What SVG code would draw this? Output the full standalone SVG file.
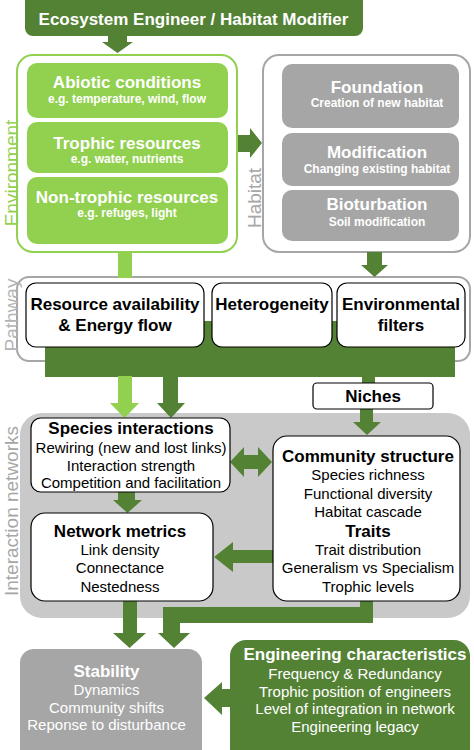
<svg xmlns="http://www.w3.org/2000/svg" width="474" height="750" viewBox="0 0 474 750">
<style>
text{font-family:"Liberation Sans",Arial,sans-serif;text-anchor:middle}
.h{font-weight:bold;font-size:17px}
.hw{font-weight:bold;font-size:17px;fill:#fff}
.sw{font-weight:bold;font-size:12px;fill:#fff}
.l{font-size:15px;fill:#000}
.lw{font-size:15px;fill:#fff}
.v{font-size:19px}
.dg{fill:#548235}
.lg{fill:#92d050}
.wb{fill:#fff;stroke:#000;stroke-width:1.2}
</style>
<rect width="474" height="750" fill="#fff"/>

<!-- background panels -->
<g id="environment">
<rect x="17" y="55" width="220" height="197" rx="16" fill="#fff" stroke="#92d050" stroke-width="2"/>
<text class="v" fill="#92d050" transform="translate(17.5,173) rotate(-90)">Environment</text>
</g>
<g id="habitat">
<rect x="263" y="55" width="207" height="197" rx="16" fill="#fff" stroke="#a6a6a6" stroke-width="2"/>
<text class="v" fill="#a6a6a6" transform="translate(261,198) rotate(-90)">Habitat</text>
</g>
<g id="pathway">
<rect x="17" y="277" width="453" height="84" rx="12" fill="#fff" stroke="#a6a6a6" stroke-width="2"/>
<text class="v" fill="#b4b4b4" transform="translate(17.5,315) rotate(-90)">Pathway</text>
</g>
<g id="interaction-networks">
<rect x="20" y="413" width="450" height="205" rx="22" fill="#c9c9c9"/>
<text class="v" fill="#a6a6a6" transform="translate(17.5,511) rotate(-90)">Interaction networks</text>
</g>

<!-- connectors -->
<g id="connectors">
<polygon class="dg" points="108,34 127,34 127,42 133,42 117.5,53 102,42 108,42"/>
<polygon class="dg" points="238,135 250,135 250,128 262,143 250,158 250,152 238,152"/>
<rect class="lg" x="118" y="251" width="14" height="27"/>
<polygon class="dg" points="367,252 382,252 382,265 388,265 374.5,277 361,265 367,265"/>
<rect class="dg" x="45" y="321" width="410" height="56"/>
<polygon class="lg" points="118,376 132,376 132,403 139,403 124.5,418 110,403 118,403"/>
<polygon class="dg" points="163,376 178,376 178,403 185,403 171,418 157,403 163,403"/>
<rect class="dg" x="362" y="376" width="13" height="8"/>
<polygon class="dg" points="360,409 373,409 373,422 381,422 367,435 353,422 360,422"/>
<polygon class="dg" points="230,462 244,447 244,455 258,455 258,447 272,462 258,477 258,469 244,469 244,477"/>
<polygon class="dg" points="118,492 135,492 135,500 142,500 127.5,513 113,500 118,500"/>
<polygon class="dg" points="273,550 273,563 233,563 233,572 214,557 233,542 233,550"/>
<polygon class="dg" points="123,601 137,601 137,633 146,633 129.5,648 113,633 123,633"/>
<polygon class="dg" points="360,601 373,601 373,623 180,623 180,633 190,633 174,648 158,633 163,633 163,607 360,607"/>
<polygon class="dg" points="232,689 232,707 222,707 222,715 204,698 222,682 222,689"/>
</g>

<!-- nodes -->
<g id="engineer">
<rect class="dg" x="25" y="-10" width="338" height="46" rx="8"/>
<text class="hw" x="193.5" y="25">Ecosystem Engineer / Habitat Modifier</text>
</g>
<g id="abiotic">
<rect class="lg" x="27" y="63" width="201" height="55" rx="10"/>
<text class="hw" x="127" y="88">Abiotic conditions</text>
<text class="sw" x="127" y="103">e.g. temperature, wind, flow</text>
</g>
<g id="trophic">
<rect class="lg" x="27" y="122" width="201" height="51" rx="10"/>
<text class="hw" x="127" y="149">Trophic resources</text>
<text class="sw" x="127" y="163">e.g. water, nutrients</text>
</g>
<g id="non-trophic">
<rect class="lg" x="27" y="177" width="201" height="67" rx="10"/>
<text class="hw" x="127" y="203">Non-trophic resources</text>
<text class="sw" x="127" y="217">e.g. refuges, light</text>
</g>
<g id="foundation">
<rect x="282" y="64" width="177" height="64" rx="10" fill="#a6a6a6"/>
<text class="hw" x="377" y="93">Foundation</text>
<text class="sw" x="377" y="107">Creation of new habitat</text>
</g>
<g id="modification">
<rect x="282" y="133" width="177" height="53" rx="10" fill="#a6a6a6"/>
<text class="hw" x="377" y="158">Modification</text>
<text class="sw" x="377" y="173">Changing existing habitat</text>
</g>
<g id="bioturbation">
<rect x="282" y="190" width="177" height="51" rx="10" fill="#a6a6a6"/>
<text class="hw" x="377" y="210">Bioturbation</text>
<text class="sw" x="377" y="226">Soil modification</text>
</g>
<g id="resource">
<rect class="wb" x="26" y="283" width="178" height="64" rx="10"/>
<text class="h" x="115" y="310">Resource availability</text>
<text class="h" x="115" y="331">&amp; Energy flow</text>
</g>
<g id="heterogeneity">
<rect class="wb" x="212" y="283" width="120" height="64" rx="10"/>
<text class="h" x="272" y="310">Heterogeneity</text>
</g>
<g id="filters">
<rect class="wb" x="337" y="283" width="128" height="64" rx="10"/>
<text class="h" x="401" y="310">Environmental</text>
<text class="h" x="401" y="331">filters</text>
</g>
<g id="niches">
<rect class="wb" x="313" y="383" width="120" height="26" rx="4"/>
<text class="h" x="373" y="402">Niches</text>
</g>
<g id="species-interactions">
<rect class="wb" x="31" y="418" width="199" height="74" rx="10"/>
<text class="h" x="131" y="434">Species interactions</text>
<text class="l" x="131" y="453">Rewiring (new and lost links)</text>
<text class="l" x="131" y="471">Interaction strength</text>
<text class="l" x="131" y="488">Competition and facilitation</text>
</g>
<g id="community">
<rect class="wb" x="273" y="436" width="187" height="165" rx="14"/>
<text class="h" x="368" y="461.5">Community structure</text>
<text class="l" x="368" y="480">Species richness</text>
<text class="l" x="368" y="499">Functional diversity</text>
<text class="l" x="368" y="516.5">Habitat cascade</text>
<text class="h" x="368" y="536.5">Traits</text>
<text class="l" x="368" y="555">Trait distribution</text>
<text class="l" x="368" y="573">Generalism vs Specialism</text>
<text class="l" x="368" y="591.5">Trophic levels</text>
</g>
<g id="network-metrics">
<rect class="wb" x="31" y="513" width="182" height="88" rx="14"/>
<text class="h" x="120" y="536.5">Network metrics</text>
<text class="l" x="120" y="555">Link density</text>
<text class="l" x="120" y="573">Connectance</text>
<text class="l" x="120" y="591.5">Nestedness</text>
</g>
<g id="stability">
<rect x="20" y="649" width="182" height="115" rx="14" fill="#a6a6a6"/>
<text class="hw" x="106.5" y="677">Stability</text>
<text class="lw" x="106.5" y="695">Dynamics</text>
<text class="lw" x="106.5" y="712.5">Community shifts</text>
<text class="lw" x="106.5" y="730">Reponse to disturbance</text>
</g>
<g id="engineering">
<rect class="dg" x="230" y="640" width="240" height="125" rx="16"/>
<text class="hw" x="355" y="660">Engineering characteristics</text>
<text class="lw" x="355" y="679">Frequency &amp; Redundancy</text>
<text class="lw" x="355" y="696.5">Trophic position of engineers</text>
<text class="lw" x="355" y="714">Level of integration in network</text>
<text class="lw" x="355" y="731.5">Engineering legacy</text>
</g>
</svg>
